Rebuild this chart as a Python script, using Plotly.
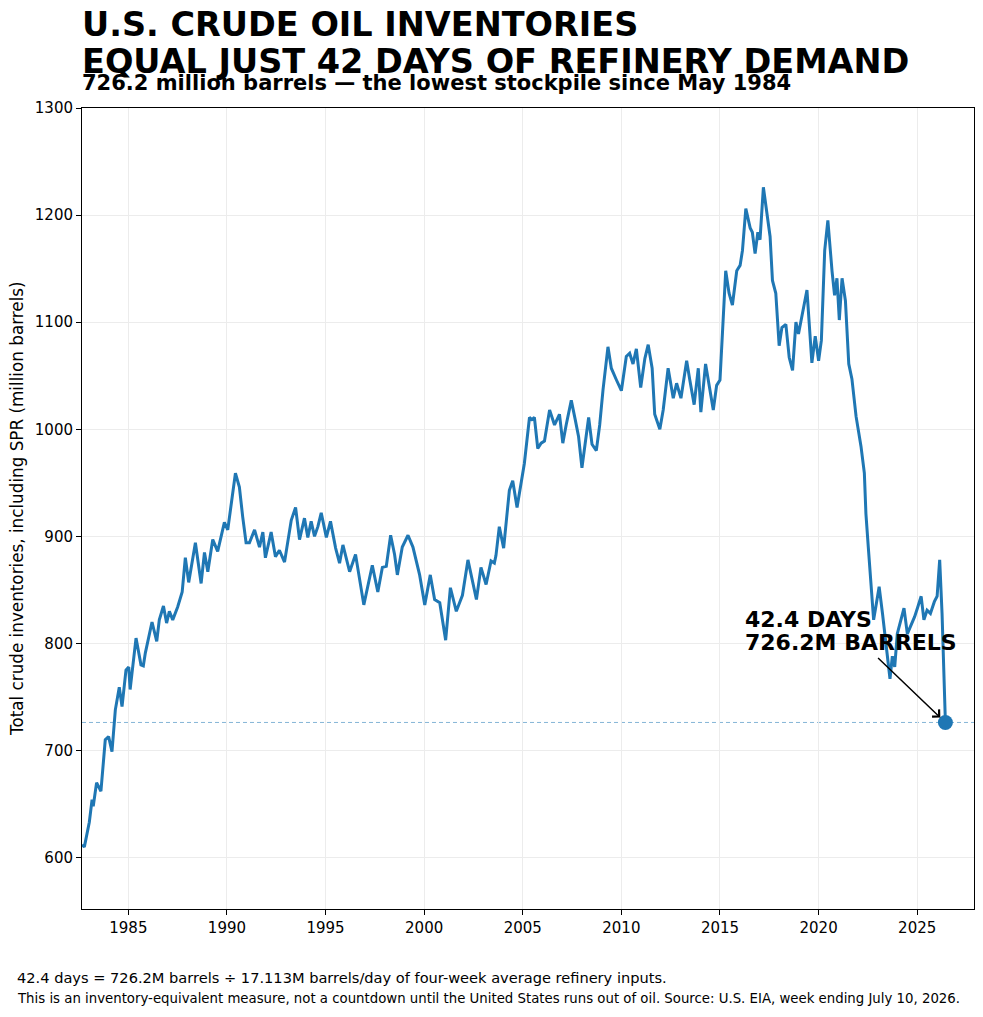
import plotly.graph_objects as go

# ---- data ----
years = [
    1982.65, 1982.77, 1983.02, 1983.16, 1983.22, 1983.39, 1983.61, 1983.83, 1984.00, 1984.17,
    1984.34, 1984.54, 1984.68, 1984.88, 1985.02, 1985.09, 1985.19, 1985.39, 1985.64, 1985.76,
    1985.86, 1986.20, 1986.44, 1986.57, 1986.78, 1986.94, 1987.08, 1987.25, 1987.50, 1987.73,
    1987.89, 1988.06, 1988.40, 1988.69, 1988.86, 1989.03, 1989.28, 1989.53, 1989.87, 1990.04,
    1990.43, 1990.63, 1990.80, 1990.97, 1991.14, 1991.40, 1991.65, 1991.82, 1991.95, 1992.24,
    1992.46, 1992.66, 1992.92, 1993.04, 1993.26, 1993.48, 1993.68, 1993.93, 1994.10, 1994.27,
    1994.44, 1994.61, 1994.78, 1995.04, 1995.25, 1995.51, 1995.71, 1995.88, 1996.22, 1996.52,
    1996.73, 1996.94, 1997.37, 1997.65, 1997.88, 1998.08, 1998.30, 1998.50, 1998.64, 1998.89,
    1999.18, 1999.43, 1999.77, 2000.03, 2000.31, 2000.53, 2000.79, 2001.09, 2001.33, 2001.63,
    2001.94, 2002.22, 2002.65, 2002.88, 2003.14, 2003.39, 2003.56, 2003.64, 2003.81, 2004.03,
    2004.32, 2004.49, 2004.71, 2004.92, 2005.08, 2005.34, 2005.46, 2005.59, 2005.76, 2005.93,
    2006.10, 2006.36, 2006.61, 2006.86, 2007.03, 2007.20, 2007.46, 2007.66, 2007.83, 2008.00,
    2008.17, 2008.34, 2008.51, 2008.73, 2008.90, 2009.07, 2009.32, 2009.49, 2009.75, 2010.00,
    2010.25, 2010.42, 2010.59, 2010.76, 2010.98, 2011.19, 2011.36, 2011.56, 2011.69, 2011.95,
    2012.12, 2012.37, 2012.63, 2012.80, 2013.02, 2013.31, 2013.47, 2013.69, 2013.90, 2014.03,
    2014.27, 2014.44, 2014.66, 2014.83, 2015.00, 2015.29, 2015.46, 2015.63, 2015.85, 2016.02,
    2016.14, 2016.31, 2016.53, 2016.64, 2016.78, 2016.92, 2017.03, 2017.20, 2017.37, 2017.54,
    2017.66, 2017.83, 2018.00, 2018.14, 2018.34, 2018.51, 2018.68, 2018.85, 2018.98, 2019.12,
    2019.41, 2019.66, 2019.83, 2020.00, 2020.14, 2020.31, 2020.47, 2020.68, 2020.81, 2020.93,
    2021.05, 2021.19, 2021.36, 2021.53, 2021.69, 2021.90, 2022.15, 2022.32, 2022.40, 2022.52,
    2022.65, 2022.79, 2022.90, 2023.07, 2023.24, 2023.36, 2023.49, 2023.62, 2023.74, 2023.86,
    2023.99, 2024.16, 2024.33, 2024.50, 2024.75, 2024.87, 2025.03, 2025.20, 2025.34, 2025.50,
    2025.67, 2025.87, 2026.01, 2026.14, 2026.26, 2026.34, 2026.43,
]
inventory = [
    612, 610, 633, 654, 648, 670, 662, 710, 713, 699,
    738, 759, 741, 775, 778, 757, 773, 805, 780, 779,
    791, 820, 802, 822, 835, 819, 830, 822, 834, 848,
    880, 857, 894, 856, 885, 867, 897, 886, 913, 906,
    959, 946, 918, 894, 894, 906, 890, 904, 880, 904,
    881, 887, 876, 889, 915, 927, 897, 917, 899, 914,
    900, 909, 922, 899, 914, 889, 875, 892, 867, 883,
    861, 836, 873, 848, 871, 872, 901, 883, 864, 890,
    901, 890, 864, 836, 864, 841, 838, 803, 852, 830,
    845, 878, 841, 871, 855, 877, 875, 882, 909, 889,
    943, 952, 927, 950, 968, 1011, 1009, 1011, 982, 987,
    989, 1018, 1004, 1014, 987, 1004, 1027, 1009, 993, 964,
    989, 1011, 986, 980, 1004, 1037, 1077, 1057, 1046, 1036,
    1068, 1071, 1061, 1075, 1039, 1066, 1079, 1057, 1014, 1000,
    1018, 1057, 1029, 1043, 1029, 1064, 1046, 1023, 1057, 1016,
    1061, 1043, 1018, 1041, 1046, 1148, 1127, 1116, 1148, 1153,
    1167, 1206, 1188, 1184, 1164, 1184, 1177, 1226, 1202, 1180,
    1139, 1127, 1078, 1095, 1098, 1067, 1055, 1100, 1089, 1103,
    1130, 1062, 1087, 1064, 1083, 1167, 1195, 1148, 1125, 1141,
    1102, 1141, 1120, 1061, 1047, 1012, 984, 959, 921, 890,
    859, 822, 834, 853, 828, 809, 784, 767, 788, 778,
    809, 822, 833, 809, 819, 825, 834, 844, 822, 831,
    828, 839, 844, 878, 828, 781, 726.2,
]

latest_year = years[-1]
latest_value = inventory[-1]
arrow_tail = (2022.94, 787.7)
label_lines = ["42.4 DAYS", "726.2M BARRELS"]
label_pos = (2016.16, [822.7, 801.3])

x_ticks = [1985, 1990, 1995, 2000, 2005, 2010, 2015, 2020, 2025]
y_ticks = [600, 700, 800, 900, 1000, 1100, 1200, 1300]

title_lines = ["U.S. CRUDE OIL INVENTORIES", "EQUAL JUST 42 DAYS OF REFINERY DEMAND"]
subtitle = "726.2 million barrels \u2014 the lowest stockpile since May 1984"
y_title = "Total crude inventories, including SPR (million barrels)"
footer_1 = "42.4 days = 726.2M barrels \u00f7 17.113M barrels/day of four-week average refinery inputs."
footer_2 = ("This is an inventory-equivalent measure, not a countdown until the United States "
            "runs out of oil. Source: U.S. EIA, week ending July 10, 2026.")

BLUE = "#1f77b4"
FONT = "DejaVu Sans"

# page has an 8px body margin; lay out in page pixels and compensate
OFF = 8
W, H = 983 - 2 * OFF, 1017 - 2 * OFF
PL, PR, PT, PB = 82, 974, 108, 909          # plot box in page pixels
ML, MR, MT, MB = PL - OFF, W - (PR - OFF), PT - OFF, H - (PB - OFF)
pw, ph = W - ML - MR, H - MT - MB

def px(xp):
    return (xp - PL) / pw

def py(yp):
    return (PB - yp) / ph

fig = go.Figure()
fig.add_trace(go.Scatter(x=years, y=inventory, mode="lines",
                         line=dict(color=BLUE, width=3), hoverinfo="skip", showlegend=False))
fig.add_trace(go.Scatter(x=[latest_year], y=[latest_value], mode="markers",
                         marker=dict(color=BLUE, size=15), showlegend=False))

fig.add_shape(type="line", xref="paper", x0=0, x1=1, yref="y", y0=latest_value, y1=latest_value,
              line=dict(color="rgba(31,119,180,0.55)", width=1, dash="4px,3px"), layer="below")

ann = []
ann.append(dict(text="<b>%s</b>" % title_lines[0], x=px(80), y=py(24.5), xref="paper", yref="paper",
                xanchor="left", yanchor="middle", showarrow=False, font=dict(size=33.5, family=FONT, color="black")))
ann.append(dict(text="<b>%s</b>" % title_lines[1], x=px(80), y=py(61.5), xref="paper", yref="paper",
                xanchor="left", yanchor="middle", showarrow=False, font=dict(size=33.5, family=FONT, color="black")))
ann.append(dict(text="<b>%s</b>" % subtitle, x=px(80), y=py(83), xref="paper", yref="paper",
                xanchor="left", yanchor="middle", showarrow=False, font=dict(size=21, family=FONT, color="black")))
ann.append(dict(text=y_title, x=px(17), y=py(509), xref="paper", yref="paper", textangle=-90,
                xanchor="center", yanchor="middle", showarrow=False, font=dict(size=16.8, family=FONT, color="black")))
ann.append(dict(text=footer_1, x=px(15), y=py(977), xref="paper", yref="paper",
                xanchor="left", yanchor="middle", showarrow=False, font=dict(size=14.6, family=FONT, color="black")))
ann.append(dict(text=footer_2, x=px(15), y=py(998), xref="paper", yref="paper",
                xanchor="left", yanchor="middle", showarrow=False, font=dict(size=13.3, family=FONT, color="black")))
for line_text, yv in zip(label_lines, label_pos[1]):
    ann.append(dict(text="<b>%s</b>" % line_text, x=label_pos[0], y=yv, xref="x", yref="y",
                    xanchor="left", yanchor="middle", showarrow=False,
                    font=dict(size=22, family=FONT, color="black")))
ann.append(dict(text="", x=latest_year, y=latest_value, xref="x", yref="y",
                ax=arrow_tail[0], ay=arrow_tail[1], axref="x", ayref="y",
                showarrow=True, arrowhead=4, arrowsize=1.3, arrowwidth=1.5, arrowcolor="black", standoff=7))

axis_common = dict(showline=True, linecolor="black", linewidth=1, mirror=True,
                   ticks="outside", ticklen=5, tickcolor="black", tickwidth=1,
                   showgrid=True, gridcolor="#ececec", gridwidth=1, zeroline=False,
                   tickfont=dict(size=15, family=FONT, color="black"))

fig.update_layout(
    width=W, height=H,
    margin=dict(l=ML, r=MR, t=MT, b=MB, autoexpand=False),
    paper_bgcolor="white", plot_bgcolor="white",
    font=dict(family=FONT, color="black"),
    xaxis=dict(range=[1982.65, 2027.88], tickvals=x_ticks, ticktext=[str(t) for t in x_ticks], **axis_common),
    yaxis=dict(range=[552, 1300], tickvals=y_ticks, ticktext=[str(t) for t in y_ticks], **axis_common),
    annotations=ann,
    showlegend=False,
)

fig.write_html("out.html")
